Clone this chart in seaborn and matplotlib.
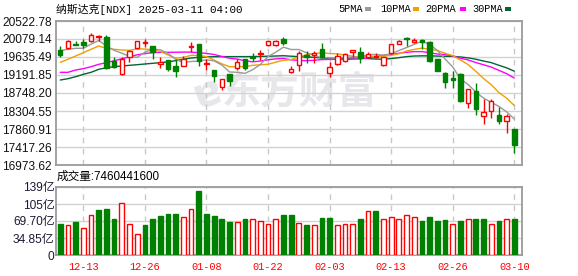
import numpy as np
import pandas as pd
import matplotlib
matplotlib.use("Agg")
import matplotlib.pyplot as plt
from matplotlib.patches import Rectangle
import seaborn as sns

# ---------------- data ----------------
dates = ["12-10","12-11","12-12","12-13","12-16","12-17","12-18","12-19","12-20","12-23",
         "12-24","12-26","12-27","12-30","12-31","01-02","01-03","01-06","01-07","01-08",
         "01-10","01-13","01-14","01-15","01-16","01-17","01-21","01-22","01-23","01-24",
         "01-27","01-28","01-29","01-30","01-31","02-03","02-04","02-05","02-06","02-07",
         "02-10","02-11","02-12","02-13","02-14","02-18","02-19","02-20","02-21","02-24",
         "02-25","02-26","02-27","02-28","03-03","03-04","03-05","03-06","03-07","03-10"]

opens = [19808, 19850, 19956, 19998, 20037, 20128, 20121, 19537, 19209, 19643,
         19850, 19973, 19907, 19470, 19561, 19414, 19406, 19874, 19956, 19470,
         19315, 18903, 19216, 19372, 19579, 19643, 19702, 19924, 19924, 20087,
         19258, 19438, 19692, 19692, 19825, 19234, 19455, 19537, 19751, 19766,
         19643, 19643, 19445, 19727, 19963, 20104, 20013, 20047, 20005, 19586,
         19248, 19118, 19224, 18494, 18805, 18189, 18312, 18199, 18048, 17861]
highs = [19907, 20045, 20022, 20072, 20220, 20178, 20178, 19635, 19628, 19808,
         20030, 20079, 19907, 19628, 19561, 19579, 19660, 20005, 19956, 19579,
         19315, 19086, 19216, 19579, 19579, 19727, 19808, 20040, 20045, 20121,
         19421, 19783, 19783, 19783, 19980, 19520, 19727, 19727, 19800, 19874,
         19759, 19727, 19628, 19956, 20054, 20136, 20096, 20072, 20022, 19586,
         19266, 19298, 19241, 18847, 19002, 18607, 18593, 18410, 18228, 17861]
lows = [19643, 19840, 19924, 19857, 20005, 20030, 19340, 19357, 19184, 19520,
        19840, 19889, 19579, 19357, 19298, 19135, 19406, 19766, 19421, 19315,
        19027, 18822, 18921, 19315, 19315, 19529, 19561, 19915, 19915, 19924,
        19234, 19290, 19495, 19495, 19603, 19150, 19431, 19512, 19643, 19495,
        19604, 19604, 19421, 19702, 19948, 19914, 19973, 19840, 19505, 19298,
        18879, 18879, 18534, 18386, 18213, 17977, 18139, 17991, 17767, 17276]
closes = [19692, 20037, 19924, 19931, 20170, 20146, 19372, 19382, 19579, 19776,
          20022, 20013, 19751, 19510, 19330, 19290, 19594, 19907, 19537, 19495,
          19167, 19086, 19044, 19505, 19357, 19618, 19727, 20030, 20037, 19973,
          19332, 19727, 19628, 19727, 19643, 19382, 19660, 19702, 19800, 19618,
          19702, 19667, 19628, 19956, 20022, 20072, 20062, 20013, 19544, 19298,
          19019, 19076, 18551, 18847, 18361, 18280, 18551, 18053, 18181, 17466]

ma5 = [19791, 19825, 19850, 19850, 19951, 20042, 19909, 19800, 19730, 19651,
       19626, 19754, 19828, 19814, 19725, 19579, 19495, 19526, 19532, 19565,
       19540, 19438, 19266, 19259, 19232, 19322, 19450, 19647, 19754, 19877,
       19820, 19820, 19739, 19677, 19611, 19621, 19608, 19623, 19637, 19632,
       19696, 19698, 19683, 19714, 19795, 19869, 19948, 20025, 19943, 19798,
       19587, 19390, 19098, 18958, 18771, 18623, 18518, 18418, 18285, 18106]
ma10 = [19505, 19579, 19660, 19742, 19825, 19907, 19850, 19825, 19808, 19801,
        19834, 19832, 19814, 19772, 19688, 19603, 19625, 19677, 19673, 19645,
        19559, 19467, 19396, 19396, 19398, 19431, 19444, 19457, 19507, 19554,
        19571, 19635, 19693, 19716, 19744, 19721, 19714, 19681, 19657, 19622,
        19659, 19653, 19653, 19676, 19714, 19783, 19823, 19854, 19828, 19796,
        19728, 19669, 19561, 19450, 19284, 19105, 18954, 18758, 18622, 18439]
ma20 = [19258, 19258, 19315, 19348, 19396, 19455, 19495, 19544, 19590, 19640,
        19690, 19720, 19742, 19750, 19751, 19753, 19757, 19756, 19740, 19723,
        19697, 19649, 19605, 19584, 19543, 19517, 19535, 19567, 19590, 19600,
        19565, 19551, 19545, 19556, 19571, 19576, 19579, 19569, 19582, 19588,
        19615, 19644, 19673, 19696, 19729, 19752, 19768, 19768, 19743, 19709,
        19694, 19661, 19607, 19563, 19499, 19444, 19388, 19306, 19225, 19117]
ma30 = [19068, 19101, 19150, 19208, 19258, 19332, 19372, 19396, 19414, 19430,
        19446, 19463, 19480, 19495, 19515, 19545, 19580, 19610, 19628, 19638,
        19643, 19645, 19645, 19645, 19645, 19647, 19650, 19655, 19660, 19667,
        19655, 19644, 19635, 19628, 19610, 19585, 19594, 19605, 19612, 19607,
        19596, 19585, 19581, 19596, 19619, 19645, 19660, 19664, 19664, 19658,
        19653, 19652, 19636, 19614, 19581, 19536, 19497, 19431, 19369, 19286]

volume = [63.2, 61.2, 67.3, 55.1, 83.0, 91.8, 94.5, 74.1, 107.4, 62.6,
          42.8, 61.2, 74.1, 79.6, 83.6, 83.6, 78.9, 93.8, 130.6, 83.6,
          79.6, 73.4, 67.3, 67.3, 74.8, 74.8, 68.7, 62.6, 73.4, 81.6,
          81.6, 66.6, 61.2, 60.5, 75.5, 75.5, 60.5, 62.6, 62.6, 73.4,
          91.1, 89.8, 74.8, 78.9, 74.8, 83.0, 78.9, 69.4, 78.9, 69.4,
          71.4, 62.6, 69.4, 74.8, 73.4, 73.4, 62.6, 69.4, 72.8, 74.6]
vol_up = [0, 1, 0, 1, 1, 0, 0, 0, 1, 1,
          1, 0, 0, 0, 0, 0, 1, 1, 0, 0,
          0, 0, 0, 1, 0, 1, 1, 1, 1, 0,
          0, 1, 0, 1, 0, 0, 1, 1, 1, 0,
          1, 0, 1, 1, 1, 1, 1, 0, 0, 0,
          0, 1, 0, 1, 0, 0, 1, 0, 1, 0]

price_ticks = [16973.62, 17417.26, 17860.91, 18304.55, 18748.20,
               19191.85, 19635.49, 20079.14, 20522.78]
vol_ticks = [0, 34.85, 69.70, 104.55, 139.4]
vol_tick_labels = ["0", "34.85亿", "69.70亿", "105亿", "139亿"]
xtick_labels = ["12-13", "12-26", "01-08", "01-22", "02-03", "02-13", "02-26", "03-10"]

title_text = "纳斯达克[NDX] 2025-03-11 04:00"
vol_text = "成交量:7460441600"
watermark = "东方财富"
ma_names = ["5PMA", "10PMA", "20PMA", "30PMA"]

# ---------------- style ----------------
RED = "#ff0000"
GREEN = "#008000"
MA_COLORS = ["#9a9a9a", "#f0a000", "#ff00ff", "#006633"]
GRID = "#d2d2d2"
FRAME = "#9b9b9b"

sns.set_theme(style="white")
plt.rcParams["font.family"] = ["Liberation Sans", "Noto Sans CJK SC", "DejaVu Sans"]

W, H = 578, 276
fig = plt.figure(figsize=(W / 100, H / 100), dpi=100)
fig.patch.set_facecolor("white")


def fx(px):
    return px / W


def fy(py):
    return 1 - py / H


ax = fig.add_axes([fx(56), fy(165), fx(522) - fx(56), fy(21) - fy(165)])
axv = fig.add_axes([fx(56), fy(255), fx(522) - fx(56), fy(187) - fy(255)])

n = len(dates)
x = np.arange(n)
o = np.array(opens, float)
c = np.array(closes, float)
hi = np.array(highs, float)
lo = np.array(lows, float)
up = c >= o
cols = np.where(up, RED, GREEN)

df = pd.DataFrame({"idx": x, "ma5": ma5, "ma10": ma10, "ma20": ma20, "ma30": ma30})

# watermark (logo glyph + text)
ax.text(0.523, 0.50, watermark, transform=ax.transAxes, ha="center", va="center",
        fontsize=28, fontweight="bold", color="#e7e7eb", zorder=0.5,
        family=["Noto Sans CJK SC"])
ax.text(0.325, 0.50, "\u0250", transform=ax.transAxes, ha="center", va="center",
        fontsize=30, fontweight="bold", color="#e7e7eb", zorder=0.5, rotation=20,
        family=["DejaVu Sans"])

# MA lines
for key, col in zip(["ma30", "ma20", "ma10", "ma5"], MA_COLORS[::-1]):
    sns.lineplot(data=df, x="idx", y=key, ax=ax, color=col, lw=1.0, zorder=2)

# candles
ax.vlines(x, lo, hi, colors=cols, lw=1.0, zorder=3)
bottom = np.minimum(o, c)
height = np.maximum(np.abs(c - o), 6)
ax.bar(x, height, bottom=bottom, width=0.58,
       color=np.where(up, "white", GREEN), edgecolor=cols, lw=1.0, zorder=4)

ax.set_xlim(-0.55, 60.0)
ax.set_ylim(price_ticks[0], price_ticks[-1])
ax.set_yticks(price_ticks)
ax.set_yticklabels([f"{t:.2f}" for t in price_ticks])
tick_pos = [dates.index(d) for d in xtick_labels]
ax.set_xticks(tick_pos)
ax.set_xticklabels([])
ax.set_xlabel("")
ax.set_ylabel("")

# volume bars
vup = np.array(vol_up, bool)
vcols = np.where(vup, RED, GREEN)
axv.bar(x, volume, width=0.62, color=np.where(vup, "white", GREEN),
        edgecolor=vcols, lw=1.0, zorder=3)
axv.set_xlim(-0.55, 60.0)
axv.set_ylim(0, 139.4)
axv.set_yticks(vol_ticks)
axv.set_yticklabels(vol_tick_labels)
axv.set_xticks(tick_pos)
axv.set_xticklabels(xtick_labels)

for a in (ax, axv):
    a.grid(axis="y", color=GRID, lw=1.0, zorder=0)
    a.grid(axis="x", color="#c8c8c8", lw=1.0, ls=(0, (4, 4)), zorder=0)
    a.set_axisbelow(True)
    for s in a.spines.values():
        s.set_color(FRAME)
        s.set_linewidth(1.3)
    a.tick_params(axis="both", length=0)

ax.tick_params(axis="y", pad=3, labelsize=8.6, labelcolor="#111111")
axv.tick_params(axis="y", pad=1, labelsize=8.6, labelcolor="#1a1a33")
axv.tick_params(axis="x", pad=5, labelsize=7.4, labelcolor=RED)
for lab in axv.get_xticklabels():
    lab.set_family(["Liberation Mono", "DejaVu Sans Mono"])
for lab in axv.get_yticklabels():
    lab.set_family(["Liberation Sans", "Noto Sans CJK SC"])

# header texts
fig.text(fx(56), fy(9), title_text, ha="left", va="center", fontsize=7.8,
         color="#000000", family=["Liberation Mono", "Noto Sans CJK SC"])
fig.text(fx(57), fy(177), vol_text, ha="left", va="center", fontsize=8.4,
         color="#000000", family=["Liberation Sans", "Noto Sans CJK SC"])

# MA legend
leg_text_x = [338, 380, 425, 472]
leg_box_x = [365, 413, 460, 505]
for name, col, tx, bx in zip(ma_names, MA_COLORS, leg_text_x, leg_box_x):
    fig.text(fx(tx), fy(9), name, ha="left", va="center", fontsize=7.4,
             color="#000000", family=["Liberation Mono"])
    fig.add_artist(Rectangle((fx(bx), fy(10.5)), fx(6), fy(7) - fy(10.5),
                             transform=fig.transFigure, color=col, lw=0))

fig.savefig("out.png", dpi=100, facecolor="white")
